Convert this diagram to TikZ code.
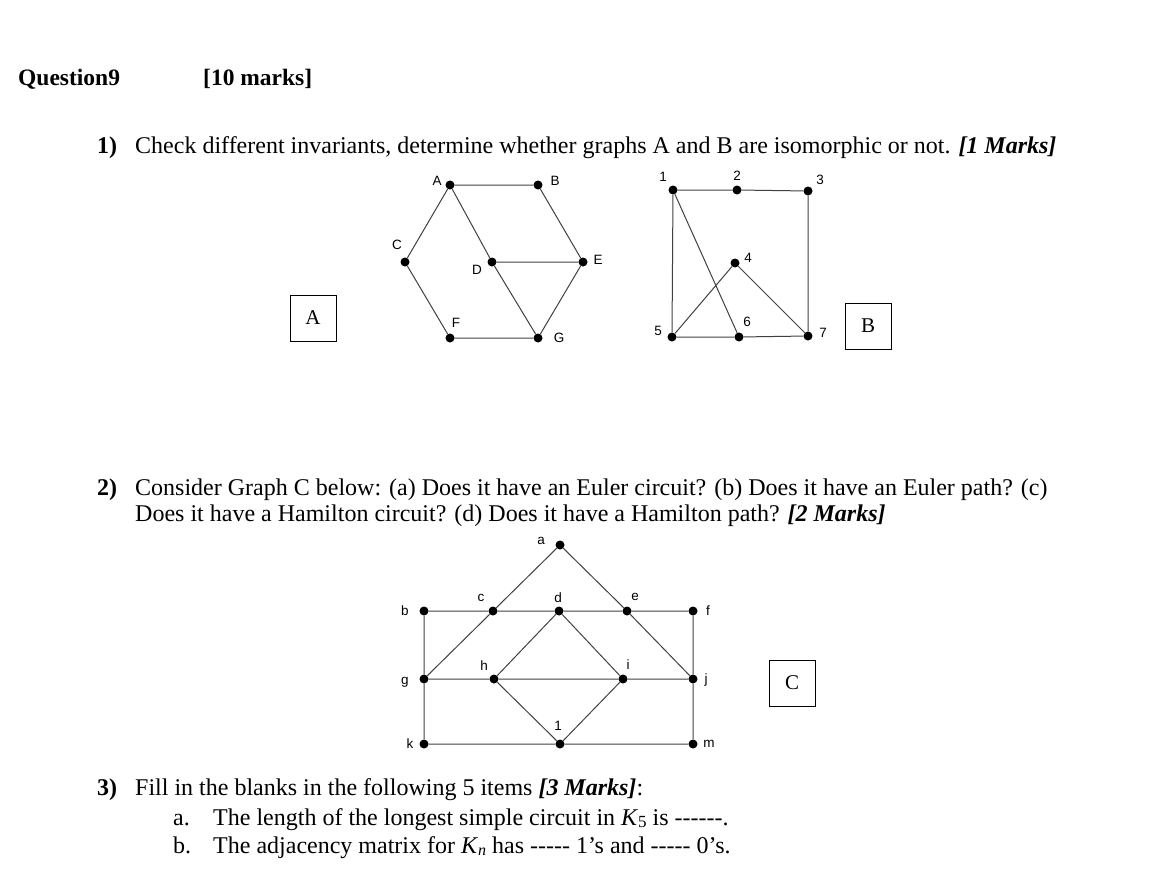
\documentclass[tikz,border=0pt]{standalone}
\usepackage{fontspec}
\setmainfont{Liberation Serif}
\newfontfamily\lblfont{Liberation Sans}
\begin{document}
\begin{tikzpicture}[x=1pt,y=-1pt,
  v/.style={circle,fill=black,inner sep=0pt,minimum size=9pt},
  e/.style={draw=black!75,line width=1pt},
  lb/.style={font=\lblfont\fontsize{13.5}{13.5}\selectfont,inner sep=0pt},
  tx/.style={anchor=base west,inner sep=0pt,font=\fontsize{24}{24}\selectfont},
  bx/.style={draw,line width=0.6pt,minimum width=46pt,minimum height=46pt,font=\fontsize{21}{21}\selectfont}]
\useasboundingbox (0,0) rectangle (1152,870);
% header
\node[tx,font=\bfseries\fontsize{23.5}{23.5}\selectfont] (q) at (18,85) {Question9};
\node[tx,font=\bfseries\fontsize{23.5}{23.5}\selectfont] (m) at (203,85) {[10 marks]};
\node[tx] (n1) at (97,153) {\textbf{1)}};
\node[tx] (t1) at (135,153) {Check different invariants, determine whether graphs A and B are isomorphic or not. \textbf{\textit{[1 Marks]}}};
\node[tx] (n2) at (97,495) {\textbf{2)}};
\node[tx] (t2) at (135,495) {Consider Graph C below: (a) Does it have an Euler circuit? (b) Does it have an Euler path? (c)};
\node[tx] (t2b) at (135,521) {Does it have a Hamilton circuit? (d) Does it have a Hamilton path? \textbf{\textit{[2 Marks]}}};
\node[tx] (n3) at (97,795) {\textbf{3)}};
\node[tx] (t3) at (135,795) {Fill in the blanks in the following 5 items \textbf{\textit{[3 Marks]}}:};
\node[tx] (la) at (173,825) {a.};
\node[tx] (ta) at (213,825) {The length of the longest simple circuit in \textit{K}\raisebox{-0.25ex}{\fontsize{17}{17}\selectfont 5} is -{}-{}-{}-{}-{}-.};
\node[tx] (lbb) at (173,853) {b.};
\node[tx] (tb) at (213,853) {The adjacency matrix for \textit{K}\raisebox{-0.25ex}{\fontsize{16}{16}\selectfont\textit{n}} has -{}-{}-{}-{}- 1’s and -{}-{}-{}-{}- 0’s.};
% boxes
\node[bx] (boxA) at (313,318) {A};
\node[bx] (boxB) at (868,326) {B};
\node[bx] (boxC) at (792,683) {C};
% graph A
\node[v] (A) at (450,185) {}; \node[v] (B) at (538,185) {};
\node[v] (C) at (405,262) {}; \node[v] (D) at (492,262) {}; \node[v] (E) at (583,262) {};
\node[v] (F) at (450,338) {}; \node[v] (G) at (538,338) {};
\draw[e] (A)--(B) (A)--(C) (A)--(D) (D)--(G) (D)--(E) (B)--(E) (E)--(G) (C)--(F) (F)--(G);
\node[lb] (lA) at (437,181) {A}; \node[lb] (lB) at (555,181) {B};
\node[lb] (lC) at (397,245) {C}; \node[lb] (lD) at (477,270) {D};
\node[lb] (lE) at (598,260) {E}; \node[lb] (lF) at (456,323) {F};
\node[lb] (lG) at (559,338) {G};
% graph B
\node[v] (b1) at (673,190) {}; \node[v] (b2) at (737,190) {}; \node[v] (b3) at (808,191) {};
\node[v] (b4) at (735,263) {}; \node[v] (b5) at (672,337) {}; \node[v] (b6) at (739,337) {};
\node[v] (b7) at (808,336) {};
\draw[e] (b1)--(b2) (b2)--(b3) (b3)--(b7) (b1)--(b5) (b1)--(b6) (b4)--(b5) (b4)--(b7) (b5)--(b6) (b6)--(b7);
\node[lb] (l1) at (663,177) {1}; \node[lb] (l2) at (737,176) {2}; \node[lb] (l3) at (820,180) {3};
\node[lb] (l4) at (748,258) {4}; \node[lb] (l5) at (658,331) {5}; \node[lb] (l6) at (747,322) {6};
\node[lb] (l7) at (823,333) {7};
% graph C
\node[v] (a) at (560,545) {};
\node[v] (b) at (424,611) {}; \node[v] (c) at (493,611) {}; \node[v] (d) at (559,611) {};
\node[v] (e) at (627,611) {}; \node[v] (f) at (693,611) {};
\node[v] (g) at (424,679) {}; \node[v] (h) at (494,679) {}; \node[v] (i) at (623,679) {};
\node[v] (j) at (693,679) {};
\node[v] (k) at (424,744) {}; \node[v] (l) at (560,744) {}; \node[v] (mm) at (693,744) {};
\draw[e] (a)--(c) (c)--(g) (a)--(e) (e)--(j) (b)--(c) (c)--(d) (d)--(e) (e)--(f)
  (b)--(g) (g)--(k) (f)--(j) (j)--(mm) (g)--(h) (h)--(i) (i)--(j)
  (d)--(h) (d)--(i) (h)--(l) (i)--(l) (k)--(l) (l)--(mm);
\node[lb] (la1) at (541,541) {a}; \node[lb] (lb1) at (405,611) {b};
\node[lb] (lc1) at (481,598) {c}; \node[lb] (ld1) at (558,598) {d};
\node[lb] (le1) at (635,597) {e}; \node[lb] (lf1) at (708,611) {f};
\node[lb] (lg1) at (405,682) {g}; \node[lb] (lh1) at (484,666) {h};
\node[lb] (li1) at (628,665) {i}; \node[lb] (lj1) at (706,680) {j};
\node[lb] (lk1) at (410,744) {k}; \node[lb] (ll1) at (558,726) {1};
\node[lb] (lm1) at (709,744) {m};
\end{tikzpicture}
\end{document}
